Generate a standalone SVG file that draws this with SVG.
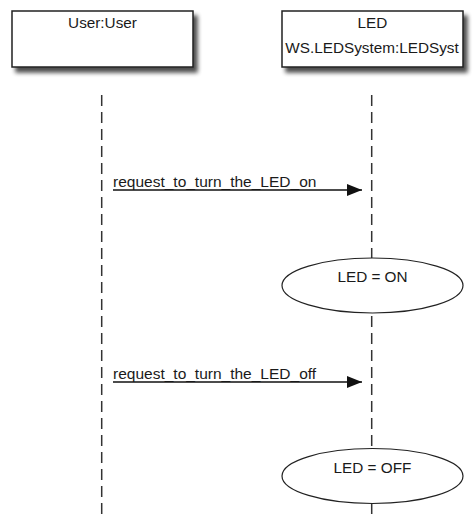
<svg xmlns="http://www.w3.org/2000/svg" width="474" height="515" viewBox="0 0 474 515">
<style>
text{font-family:"Liberation Sans",Arial,sans-serif;font-size:15.3px;fill:#1a1a1a}
.box{fill:#fff;stroke:#222;stroke-width:1.5}
.life{stroke:#333;stroke-width:1.5;stroke-dasharray:11 6;fill:none}
.msg{stroke:#111;stroke-width:1.5;fill:none}
.state{fill:#fff;stroke:#222;stroke-width:1.2}
</style>
<defs>
<filter id="sh" x="-10%" y="-20%" width="130%" height="160%">
<feGaussianBlur in="SourceAlpha" stdDeviation="2"/>
<feOffset dx="4" dy="5" result="b"/>
<feComponentTransfer><feFuncA type="linear" slope="0.7"/></feComponentTransfer>
<feMerge><feMergeNode/><feMergeNode in="SourceGraphic"/></feMerge>
</filter>
<marker id="arr" markerWidth="16" markerHeight="12" refX="15" refY="6" orient="auto" markerUnits="userSpaceOnUse">
<path d="M0,0 L15,6 L0,12 Z" fill="#111"/>
</marker>
</defs>
<g id="connectors">
<line class="life" x1="101.7" y1="95" x2="101.7" y2="515"/>
<line class="life" x1="371.7" y1="95" x2="371.7" y2="515"/>
<line class="msg" x1="113" y1="190" x2="362" y2="190" marker-end="url(#arr)"/>
<text x="113" y="187" style="font-size:15.5px">request_to_turn_the_LED_on</text>
<line class="msg" x1="113" y1="382" x2="362" y2="382" marker-end="url(#arr)"/>
<text x="113" y="379" style="font-size:15.5px">request_to_turn_the_LED_off</text>
</g>
<g id="user">
<rect class="box" x="12" y="11" width="181" height="56" filter="url(#sh)"/>
<text x="102.5" y="28" text-anchor="middle">User:User</text>
</g>
<g id="led">
<rect class="box" x="282" y="11" width="181" height="56" filter="url(#sh)"/>
<text x="372.5" y="28" text-anchor="middle">LED</text>
<text x="372" y="53" text-anchor="middle">WS.LEDSystem:LEDSyst</text>
</g>
<g id="state-on">
<ellipse class="state" cx="372.5" cy="285.5" rx="90.5" ry="27.5"/>
<text x="372.5" y="282" text-anchor="middle">LED = ON</text>
</g>
<g id="state-off">
<ellipse class="state" cx="372.5" cy="476" rx="90.5" ry="27.5"/>
<text x="372.5" y="473" text-anchor="middle">LED = OFF</text>
</g>
</svg>
